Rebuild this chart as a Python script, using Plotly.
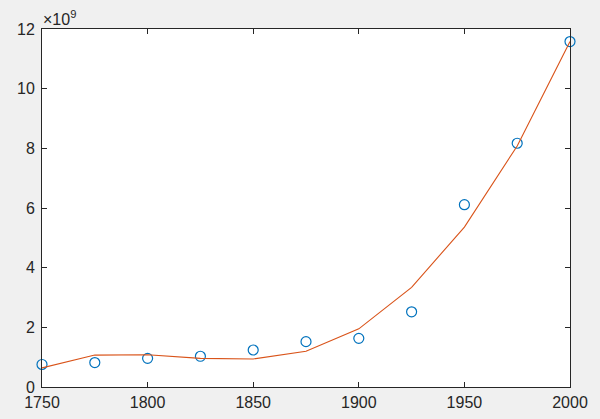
import plotly.graph_objects as go

years = [1750, 1775, 1800, 1825, 1850, 1875, 1900, 1925, 1950, 1975, 2000]
observed = [0.755e9, 0.82e9, 0.96e9, 1.03e9, 1.24e9, 1.52e9, 1.63e9, 2.52e9, 6.11e9, 8.17e9, 11.58e9]
fitted = [0.64e9, 1.07e9, 1.08e9, 0.96e9, 0.94e9, 1.20e9, 1.95e9, 3.34e9, 5.36e9, 8.08e9, 11.58e9]
x_ticks = [1750, 1800, 1850, 1900, 1950, 2000]
y_ticks = [0, 2e9, 4e9, 6e9, 8e9, 10e9, 12e9]
y_tick_labels = ["0", "2", "4", "6", "8", "10", "12"]

FONT = "Liberation Sans, Arial, sans-serif"

fig = go.Figure()
fig.add_trace(go.Scatter(
    x=years, y=observed, mode="markers",
    marker=dict(symbol="circle-open", size=10, color="#0072BD", line=dict(width=1.2, color="#0072BD")),
    showlegend=False, cliponaxis=False,
))
fig.add_trace(go.Scatter(
    x=years, y=fitted, mode="lines",
    line=dict(color="#D95319", width=1.1),
    showlegend=False, cliponaxis=False,
))

axis_common = dict(
    showline=True, linecolor="#262626", linewidth=1, mirror="ticks",
    ticks="inside", ticklen=5, tickcolor="#262626", showgrid=False, zeroline=False,
    automargin=False,
    tickfont=dict(family=FONT, size=16, color="#262626"),
)

fig.update_layout(
    width=600, height=419,
    paper_bgcolor="#f0f0f0", plot_bgcolor="#ffffff",
    margin=dict(l=42, r=30, t=29, b=32),
    xaxis=dict(range=[1750, 2000], tickvals=x_ticks, ticktext=[str(v) for v in x_ticks], ticklabelstandoff=1, **axis_common),
    yaxis=dict(range=[0, 12e9], tickvals=y_ticks, ticktext=y_tick_labels, ticklabelstandoff=3, **axis_common),
    annotations=[dict(
        xref="paper", yref="paper", x=0, y=1, xanchor="left", yanchor="bottom",
        text="×10<sup>9</sup>", showarrow=False, yshift=-1, xshift=-1,
        font=dict(family=FONT, size=16, color="#262626"),
    )],
)

fig.write_html(
    "out.html",
    config={"displayModeBar": False},
    post_script="document.body.style.margin='0';document.body.style.background='#f0f0f0';",
)
